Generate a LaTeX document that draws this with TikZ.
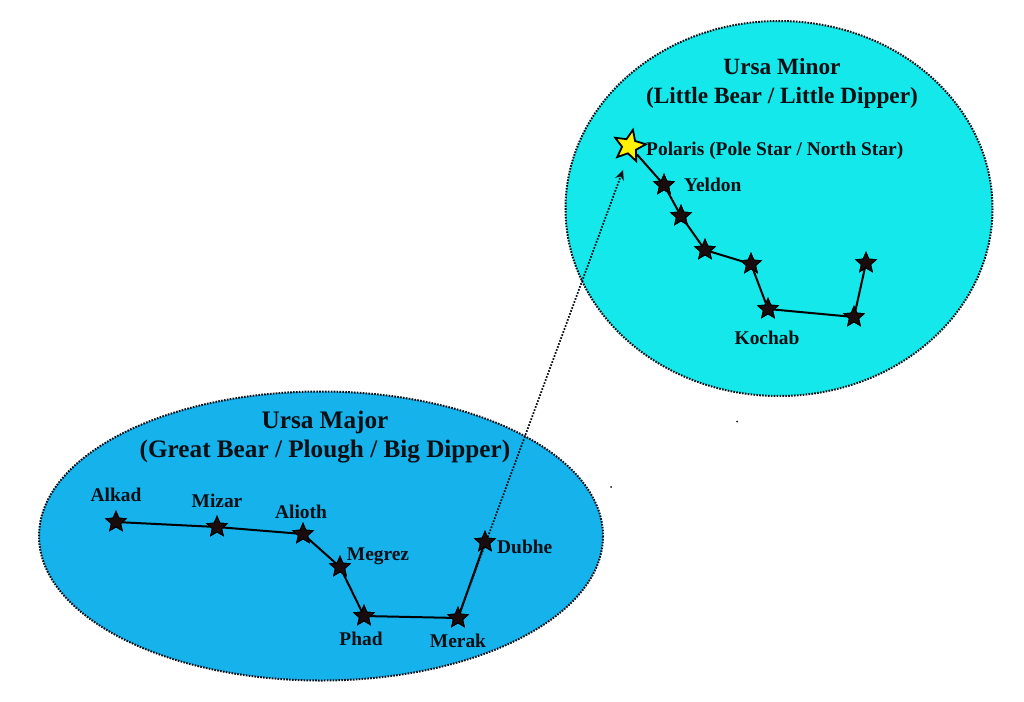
\documentclass[tikz,border=0pt]{standalone}
\usepackage{fontspec}
\setmainfont{Liberation Serif}
\usetikzlibrary{shapes.geometric,arrows.meta}
\definecolor{minorc}{HTML}{14E8EA}
\definecolor{majorc}{HTML}{15B2EC}
\definecolor{starc}{HTML}{1A0C0C}
\definecolor{inkc}{HTML}{0A0F14}
\tikzset{
  x=1pt,y=-1pt,
  sky/.style={draw=inkc,line width=2pt,dash pattern=on 1.6pt off 1.3pt},
  astar/.style={star,star points=5,star point ratio=2.2,minimum size=21pt,inner sep=0pt,draw=black,line width=1pt,fill=starc},
  pole/.style={star,star points=5,star point ratio=2.2,minimum size=33pt,inner sep=0pt,draw=black,line width=1.8pt,fill=yellow,rotate=-12},
  link/.style={draw=black,line width=2pt},
  pointer/.style={draw=inkc,line width=1.8pt,dash pattern=on 1.6pt off 1.6pt,-{Stealth[length=10pt,width=9pt]}},
  titlemin/.style={font=\bfseries\fontsize{23.3}{29}\selectfont,text=inkc,align=center,inner sep=0pt},
  titlemaj/.style={font=\bfseries\fontsize{25.2}{29}\selectfont,text=inkc,align=center,inner sep=0pt},
  lab/.style={font=\bfseries\fontsize{19.4}{22}\selectfont,text=inkc,inner sep=0pt},
}
\begin{document}
\begin{tikzpicture}
\useasboundingbox (0,0) rectangle (1024,701);
\fill[white] (0,0) rectangle (1024,701);
\draw[sky,fill=minorc] (779,208.5) ellipse [x radius=213.5,y radius=187.5];
\draw[sky,fill=majorc] (321,536) ellipse [x radius=282,y radius=144.5];
\fill[inkc] (737,421.5) circle (1) (611,487) circle (1);
% Ursa Major
\node[astar] (alkad) at (116,522) {};
\node[astar] (mizar) at (217,527) {};
\node[astar] (alioth) at (303,534) {};
\node[astar] (megrez) at (340,567) {};
\node[astar] (phad) at (364,616) {};
\node[astar] (merak) at (458,618) {};
\node[astar] (dubhe) at (485,542) {};
% Ursa Minor
\node[pole] (polaris) at (629.5,146) {};
\node[astar] (yeldon) at (664,185) {};
\node[astar] (m2) at (681,216) {};
\node[astar] (m3) at (705,250) {};
\node[astar] (m4) at (751,264) {};
\node[astar] (kochab) at (768,309) {};
\node[astar] (m6) at (854,317) {};
\node[astar] (m7) at (866,263) {};
\coordinate (tip) at (623,170);
\draw[link] (alkad.center) -- (mizar.center) -- (alioth.center) -- (megrez.center) -- (phad.center) -- (merak.center) -- (dubhe.center);
\draw[link] (polaris) -- (yeldon.center) -- (m2.center) -- (m3.center) -- (m4.center) -- (kochab.center) -- (m6.center) -- (m7.center);
\draw[pointer] (merak.center) -- (tip);
\foreach \n in {alkad,mizar,alioth,megrez,phad,merak,dubhe}{\node[astar] at (\n) {};}
\foreach \n in {yeldon,m2,m3,m4,kochab,m6,m7}{\node[astar] at (\n) {};}
\node[titlemin] (ttlmin) at (782,83.5) {Ursa Minor\\(Little Bear / Little Dipper)};
\node[titlemaj] (ttlmaj) at (325,437) {Ursa Major\\(Great Bear / Plough / Big Dipper)};
\node[lab,anchor=west] (lpolaris) at (646,151) {Polaris (Pole Star / North Star)};
\node[lab,anchor=west] (lyeldon) at (684,185) {Yeldon};
\node[lab] (lkochab) at (767,338) {Kochab};
\node[lab] (lalkad) at (116,495) {Alkad};
\node[lab] (lmizar) at (217,501) {Mizar};
\node[lab] (lalioth) at (301,512) {Alioth};
\node[lab] (lmegrez) at (378,556) {Megrez};
\node[lab] (lphad) at (361,639) {Phad};
\node[lab] (lmerak) at (458,641) {Merak};
\node[lab,anchor=west] (ldubhe) at (497,547) {Dubhe};
\end{tikzpicture}
\end{document}
